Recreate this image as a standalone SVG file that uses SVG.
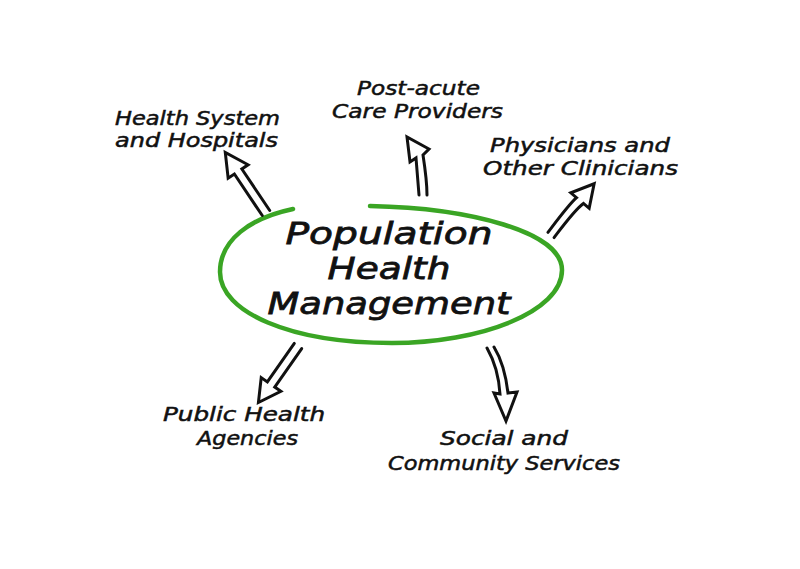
<svg xmlns="http://www.w3.org/2000/svg" width="800" height="569" viewBox="0 0 800 569">
<style>
.t{font-family:"DejaVu Sans","Liberation Sans",sans-serif;font-style:italic;fill:#111;stroke:#111;stroke-width:0.5;}
.s{font-size:19px;}
.m{font-size:31px;stroke-width:0.8;}
.a{fill:#fff;stroke:#111;stroke-width:3;stroke-linejoin:miter;stroke-linecap:round;}
</style>
<rect width="800" height="569" fill="#fff"/>
<g id="center">
<path d="M370,206 C470,208 562,232 562,270 C562,312 480,343 392,343 C290,343 220,312 220,272 C220,240 250,218 293,209" fill="none" stroke="#3aa524" stroke-width="4.5" stroke-linecap="round"/>
<text class="t m" x="389" y="244" text-anchor="middle" textLength="207" lengthAdjust="spacingAndGlyphs">Population</text>
<text class="t m" x="389" y="279" text-anchor="middle" textLength="123" lengthAdjust="spacingAndGlyphs">Health</text>
<text class="t m" x="389" y="314" text-anchor="middle" textLength="243" lengthAdjust="spacingAndGlyphs">Management</text>
</g>
<g id="n1">
<text class="t s" x="115" y="125" textLength="165" lengthAdjust="spacingAndGlyphs">Health System</text>
<text class="t s" x="115" y="147" textLength="163" lengthAdjust="spacingAndGlyphs">and Hospitals</text>
</g>
<g id="n2">
<text class="t s" x="357" y="95" textLength="123" lengthAdjust="spacingAndGlyphs">Post-acute</text>
<text class="t s" x="332" y="118" textLength="171" lengthAdjust="spacingAndGlyphs">Care Providers</text>
</g>
<g id="n3">
<text class="t s" x="490" y="152" textLength="180" lengthAdjust="spacingAndGlyphs">Physicians and</text>
<text class="t s" x="483" y="175" textLength="195" lengthAdjust="spacingAndGlyphs">Other Clinicians</text>
</g>
<g id="n4">
<text class="t s" x="163" y="421" textLength="162" lengthAdjust="spacingAndGlyphs">Public Health</text>
<text class="t s" x="197" y="445" textLength="101" lengthAdjust="spacingAndGlyphs">Agencies</text>
</g>
<g id="n5">
<text class="t s" x="440" y="445" textLength="128" lengthAdjust="spacingAndGlyphs">Social and</text>
<text class="t s" x="388" y="470" textLength="232" lengthAdjust="spacingAndGlyphs">Community Services</text>
</g>
<g id="connectors">
<path class="a" transform="translate(266,213) rotate(-123.9)" d="M0,-4.5 L50,-4.5 L50,-12 L73,0 L50,12 L50,4.5 L0,4.5"/>
<path class="a" d="M419,195 C418,182 417,170 416,158 L410,162 L407,137 L429,149 L423,155 C425,168 427,182 427,195"/>
<path class="a" transform="translate(551,235) rotate(-49.9)" d="M0,-4 C20,-5 35,-6 45,-4.5 L45,-12 L67,0 L45,12 L45,4.5 C35,2 20,3 0,4"/>
<path class="a" transform="translate(298,346) rotate(125)" d="M0,-4.5 L47,-4.5 L47,-12 L69,0 L47,12 L47,4.5 L0,4.5"/>
<path class="a" d="M487,348 C495,362 499,378 500,394 L494,393 L506,421 L517,392 L508,393 C506,376 502,360 494,347"/>
</g>
</svg>
